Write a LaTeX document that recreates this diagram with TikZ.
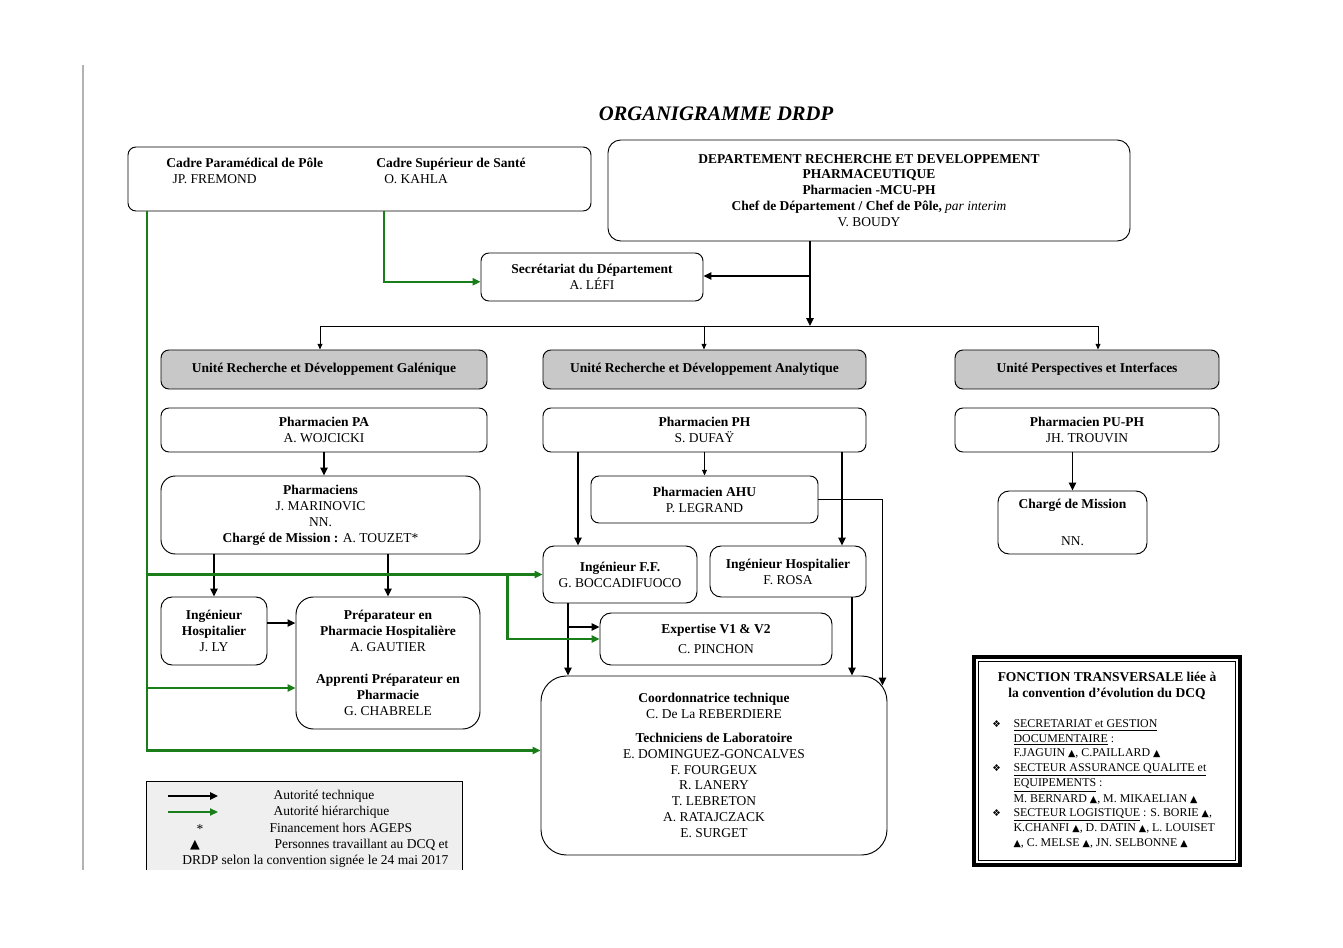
\documentclass[tikz,border=0pt]{standalone}
\usepackage{fontspec}
\setmainfont{Liberation Serif}
\newfontfamily\symfont{DejaVu Sans}
\usetikzlibrary{arrows.meta}

\definecolor{hiergreen}{RGB}{25,125,25}
\definecolor{unitgray}{RGB}{200,200,200}
\definecolor{legendgray}{RGB}{239,239,239}
\newcommand{\tri}{{\fontsize{6}{7}\symfont ▲}}
\newcommand{\puce}{{\fontsize{6}{7}\symfont ❖}}

\begin{document}
\begin{tikzpicture}[x=0.63pt, y=-0.63pt,
  font=\fontsize{8.5}{10}\selectfont,
  sz/.style 2 args={minimum width=#1*0.63pt, minimum height=#2*0.63pt},
  box/.style={draw, rounded corners=5pt, align=center, inner sep=0pt, line width=0.6pt},
  unit/.style={box, fill=unitgray, font=\fontsize{8.5}{10}\selectfont\bfseries},
  tech/.style={line width=1.2pt, -{Triangle[length=5pt,width=4.5pt]}},
  hier/.style={tech, line width=1.4pt, draw=hiergreen},
  thinline/.style={line width=0.6pt},
  thinarrow/.style={line width=0.6pt, -{Triangle[length=3.5pt,width=3pt]}}]

  \useasboundingbox (0,0) rectangle (1343,948);

  % Page margin and title
  \draw[gray!60, line width=1.2pt] (83,65) -- (83,870);
  \node[font=\fontsize{13}{15}\selectfont\bfseries\itshape] (title) at (716,114) {ORGANIGRAMME DRDP};

  % Top row
  \node[box, sz={463}{64}] (cadres) at (359.5,179) {};
  \node[anchor=west, align=left, inner sep=0pt] (paramed) at (166,171) {\textbf{Cadre Paramédical de Pôle}\\\hspace{4pt}JP. FREMOND};
  \node[anchor=west, align=left, inner sep=0pt] (sante) at (376,171) {\textbf{Cadre Supérieur de Santé}\\\hspace{5pt}O. KAHLA};

  \node[box, rounded corners=8pt, sz={522}{101}] (dept) at (869,190.5)
    {\textbf{DEPARTEMENT RECHERCHE ET DEVELOPPEMENT}\\
     \textbf{PHARMACEUTIQUE}\\
     \textbf{Pharmacien -MCU-PH}\\
     \textbf{Chef de Département / Chef de Pôle,} \textit{par interim}\\
     V. BOUDY};

  \node[box, sz={222}{48}] (secr) at (592,277) {\textbf{Secrétariat du Département}\\A. LÉFI};

  % Units
  \node[unit, sz={326}{39}] (gal) at (324,369.5) {Unité Recherche et Développement Galénique};
  \node[unit, sz={323}{39}] (ana) at (704.5,369.5) {Unité Recherche et Développement Analytique};
  \node[unit, sz={264}{39}] (persp) at (1087,369.5) {Unité Perspectives et Interfaces};

  % Galenique column
  \node[box, sz={326}{44}] (pa) at (324,430) {\textbf{Pharmacien PA}\\A. WOJCICKI};
  \node[box, rounded corners=9pt, sz={319}{78}] (pharms) at (320.5,515)
    {\textbf{Pharmaciens}\\J. MARINOVIC\\NN.\\\textbf{Chargé de Mission :} A. TOUZET*};
  \node[box, rounded corners=7pt, sz={106}{68}] (jly) at (214,631) {\textbf{Ingénieur}\\\textbf{Hospitalier}\\J. LY};
  \node[box, rounded corners=11pt, sz={184}{132}] (prep) at (388,663)
    {\textbf{Préparateur en}\\\textbf{Pharmacie Hospitalière}\\A. GAUTIER\\[10pt]
     \textbf{Apprenti Préparateur en}\\\textbf{Pharmacie}\\G. CHABRELE};

  % Analytique column
  \node[box, sz={323}{44}] (ph) at (704.5,430) {\textbf{Pharmacien PH}\\S. DUFAŸ};
  \node[box, sz={227}{47}] (ahu) at (704.5,499.5) {\textbf{Pharmacien AHU}\\P. LEGRAND};
  \node[box, rounded corners=7pt, sz={154}{57}] (iff) at (620,574.5) {\textbf{Ingénieur F.F.}\\G. BOCCADIFUOCO};
  \node[box, rounded corners=7pt, sz={156}{51}] (rosa) at (788,571.5) {\textbf{Ingénieur Hospitalier}\\F. ROSA};
  \node[box, rounded corners=7pt, sz={232}{52}] (expert) at (716,639) {\textbf{Expertise V1 \& V2}\\[3pt]C. PINCHON};
  \node[box, rounded corners=16pt, sz={346}{179}] (coord) at (714,765.5)
    {\textbf{Coordonnatrice technique}\\C. De La REBERDIERE\\[5pt]
     \textbf{Techniciens de Laboratoire}\\E. DOMINGUEZ-GONCALVES\\F. FOURGEUX\\R. LANERY\\
     T. LEBRETON\\A. RATAJCZACK\\E. SURGET};

  % Perspectives column
  \node[box, sz={264}{44}] (puph) at (1087,430) {\textbf{Pharmacien PU-PH}\\JH. TROUVIN};
  \node[box, rounded corners=7pt, sz={149}{63}] (mission) at (1072.5,522.5) {\textbf{Chargé de Mission}\\[13pt]NN.};

  % Technical authority
  \coordinate (busG) at (320,326);
  \coordinate (busA) at (704,326);
  \coordinate (busM) at (810,326);
  \coordinate (busP) at (1098,326);
  \coordinate (tapS) at (810,276);
  \draw[thinline] (busG) -- (busP);
  \draw[tech] (dept.south -| busM) -- (busM);
  \draw[tech] (tapS) -- (tapS -| secr.east);
  \draw[thinarrow] (busG) -- (busG |- gal.north);
  \draw[thinarrow] (busA) -- (busA |- ana.north);
  \draw[thinarrow] (busP) -- (busP |- persp.north);

  \draw[tech] (pa.south) -- (pa.south |- pharms.north);
  \draw[tech] (pharms.south -| jly) -- (jly.north);
  \draw[tech] (pharms.south -| prep) -- (prep.north);
  \draw[tech] ([yshift=5pt]jly.east) -- ([yshift=5pt]jly.east -| prep.west);

  \path (iff.north) ++(-42,0) coordinate (iffin);
  \path (rosa.north) ++(54,0) coordinate (rosain);
  \path (iff.south) ++(-52,0) coordinate (iffout);
  \path (rosa.south) ++(64,0) coordinate (rosaout);
  \path (expert.west) ++(0,-12) coordinate (expin);
  \path (coord.north east) ++(-5,10) coordinate (coordne);
  \draw[tech] (iffin |- ph.south) -- (iffin);
  \draw[thinarrow] (ph.south -| ahu) -- (ahu.north);
  \draw[tech] (rosain |- ph.south) -- (rosain);
  \draw[tech] (iffout) -- (iffout |- coord.north);
  \draw[tech] (iffout |- expin) -- (expin);
  \draw[tech] (rosaout) -- (rosaout |- coord.north);
  \draw[tech] (ahu.east) -| (coordne);
  \draw[tech] (mission.north |- puph.south) -- (mission.north);

  % Hierarchical authority
  \coordinate (frem) at (147,211);
  \coordinate (kahla) at (384,211);
  \path (iff.west) ++(-35,0) coordinate (gsplit);
  \path (prep.west) ++(0,25) coordinate (prepin);
  \path (coord.west) ++(0,-15) coordinate (coordin);
  \draw[hier] (kahla) |- ([yshift=-3pt]secr.west);
  \draw[hier] (frem) |- (coordin);
  \draw[hier] (frem |- iff.west) -- (iff.west);
  \draw[hier] (gsplit) |- (expert.west);
  \draw[hier] (frem |- prepin) -- (prepin);

  % Legend
  \fill[legendgray] (146,781) rectangle (462,870);
  \draw[thinline] (146,870) -- (146,781) -- (462,781) -- (462,870);
  \coordinate (lt1) at (168,796);
  \coordinate (lt2) at (218,796);
  \coordinate (lh1) at (168,812);
  \coordinate (lh2) at (218,812);
  \draw[tech] (lt1) -- (lt2);
  \draw[hier, line width=0.8pt] (lh1) -- (lh2);
  \node[anchor=west] (ltech) at (268,796) {Autorité technique};
  \node[anchor=west] (lhier) at (268,812) {Autorité hiérarchique};
  \node (lstar) at (200,829) {*};
  \node[anchor=west] (lfin) at (264,828) {Financement hors AGEPS};
  \node (ltri) at (195,845) {{\fontsize{8}{9}\symfont ▲}};
  \node[anchor=east] (lpers) at (454,845) {Personnes travaillant au DCQ et};
  \node[anchor=east] (lconv) at (454,861) {DRDP selon la convention signée le 24 mai 2017};

  % Transversal function
  \node[draw, line width=2.2pt, sz={266}{208}] (trans) at (1107,761) {};
  \draw[thinline] ([shift={(6,6)}]trans.north west) rectangle ([shift={(-6,-6)}]trans.south east);
  \node[font=\fontsize{8.5}{10}\selectfont\bfseries, align=center] (transtitle) at (1107,685.5)
    {FONCTION TRANSVERSALE liée à\\la convention d'évolution du DCQ};
  \node[anchor=north west, inner sep=0pt, font=\fontsize{7.5}{9.2}\selectfont] (translist) at (992,717) {%
    \begin{tabular}{@{}l@{\hspace{8pt}}l@{}}
      \puce & \underline{SECRETARIAT et GESTION}\\
            & \underline{DOCUMENTAIRE} :\\
            & F.JAGUIN \tri, C.PAILLARD \tri\\
      \puce & \underline{SECTEUR ASSURANCE QUALITE et}\\
            & \underline{EQUIPEMENTS} :\\
            & M. BERNARD \tri, M. MIKAELIAN \tri\\
      \puce & \underline{SECTEUR LOGISTIQUE} : S. BORIE \tri,\\
            & K.CHANFI \tri, D. DATIN \tri, L. LOUISET\\
            & \tri, C. MELSE \tri, JN. SELBONNE \tri
    \end{tabular}};
\end{tikzpicture}
\end{document}
